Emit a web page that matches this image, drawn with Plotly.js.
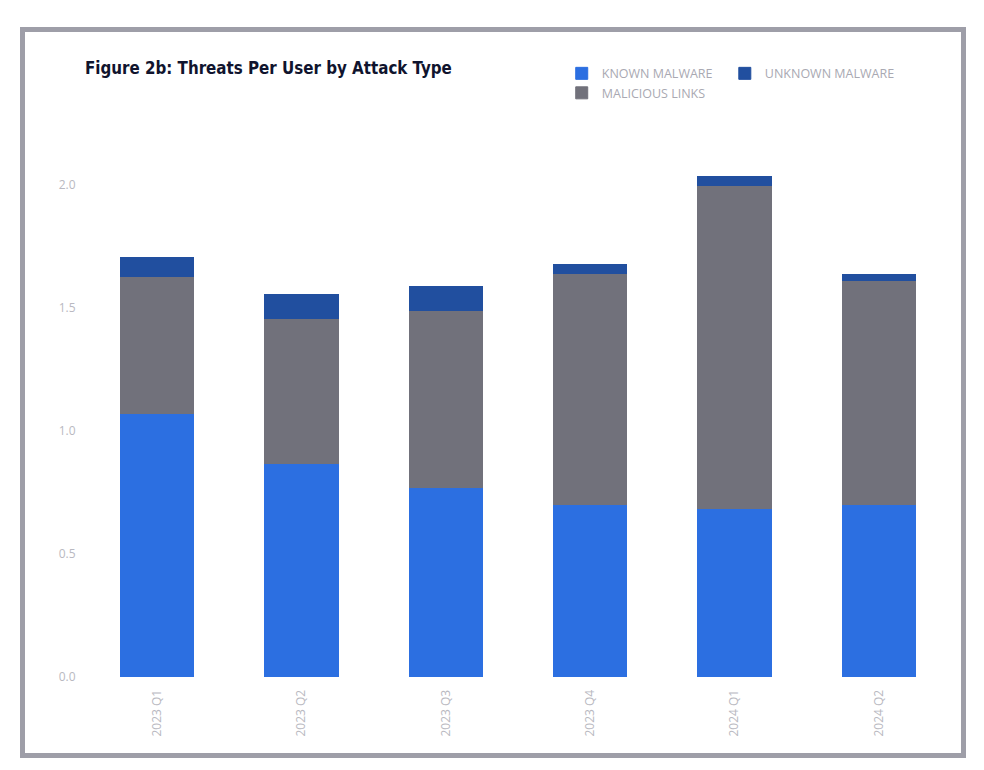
<!DOCTYPE html>
<html>
<head>
<meta charset="utf-8">
<script src="https://cdn.plot.ly/plotly-3.0.1.min.js"></script>
<style>
  html, body { margin: 0; padding: 0; background: #ffffff; }
  #frame {
    position: absolute;
    left: 20px; top: 27px;
    width: 946px; height: 731px;
    box-sizing: border-box;
    border: 5px solid #9e9ea8;
    background: #ffffff;
  }
  #chart { width: 936px; height: 721px; }
</style>
</head>
<body>
<div id="frame"><div id="chart"></div></div>
<script>
  // Threats per user.
  const quarters = ["2023 Q1", "2023 Q2", "2023 Q3", "2023 Q4", "2024 Q1", "2024 Q2"];
  const knownMalware = [1.07, 0.867, 0.772, 0.700, 0.684, 0.702];
  const maliciousLinks = [0.559, 0.590, 0.719, 0.941, 1.315, 0.910];
  const unknownMalware = [0.076, 0.098, 0.096, 0.036, 0.036, 0.024];
  const yTicks = [0, 0.5, 1.0, 1.5, 2.0];

  const BLUE = "#2c6fe1";
  const NAVY = "#214f9f";
  const GREY = "#71717b";
  const LABEL = "#b9b9c1";

  function barTrace(name, values, color, legend) {
    return {
      type: "bar",
      name: name,
      x: quarters,
      y: values,
      marker: { color: color, line: { color: color, width: 1 } },
      legend: legend,
      hovertemplate: "%{x}<br>" + name + ": %{y:.2f}<extra></extra>",
    };
  }

  // Stack order bottom to top: known, links, unknown.
  // Each series gets its own legend box so the key sits in the same
  // two-column, two-row grid as the original.
  const traces = [
    barTrace("KNOWN MALWARE", knownMalware, BLUE, "legend"),
    barTrace("MALICIOUS LINKS", maliciousLinks, GREY, "legend2"),
    barTrace("UNKNOWN MALWARE", unknownMalware, NAVY, "legend3"),
  ];

  const legendFont = { family: "Open Sans, sans-serif", size: 12.5, color: "#a9a9b2" };

  function legendBox(x, y) {
    return {
      orientation: "h",
      x: x, xanchor: "left",
      y: y, yanchor: "middle",
      font: legendFont,
      bgcolor: "rgba(0,0,0,0)",
    };
  }

  const layout = {
    width: 936,
    height: 721,
    paper_bgcolor: "#ffffff",
    plot_bgcolor: "#ffffff",
    barmode: "stack",
    bargap: 0.494,
    margin: { l: 60, r: 10, t: 104, b: 76 },
    font: { family: "Open Sans, sans-serif", color: LABEL },
    title: {
      text: "Figure 2b: Threats Per User by Attack Type",
      font: { family: "DejaVu Sans Condensed, sans-serif", size: 16.8, color: "#10142e", weight: "bold" },
      xref: "paper", x: 0, xanchor: "left",
      yref: "container", y: 0.95, yanchor: "middle",
    },
    showlegend: true,
    legend: legendBox(0.5505, 1.1151),
    legend3: legendBox(0.7388, 1.1151),
    legend2: legendBox(0.5505, 1.0791),
    xaxis: {
      type: "category",
      tickangle: -90,
      ticks: "outside",
      ticklen: 7,
      tickcolor: "rgba(0,0,0,0)",
      tickfont: { size: 12, color: LABEL },
      showgrid: false,
      showline: false,
      zeroline: false,
    },
    yaxis: {
      range: [0, 2.2],
      tickvals: yTicks,
      tickformat: ".1f",
      ticks: "outside",
      ticklen: 6,
      tickcolor: "rgba(0,0,0,0)",
      tickfont: { size: 12, color: LABEL },
      showgrid: false,
      showline: false,
      zeroline: false,
    },
  };

  Plotly.newPlot("chart", traces, layout, { displayModeBar: false, staticPlot: true });
</script>
</body>
</html>
